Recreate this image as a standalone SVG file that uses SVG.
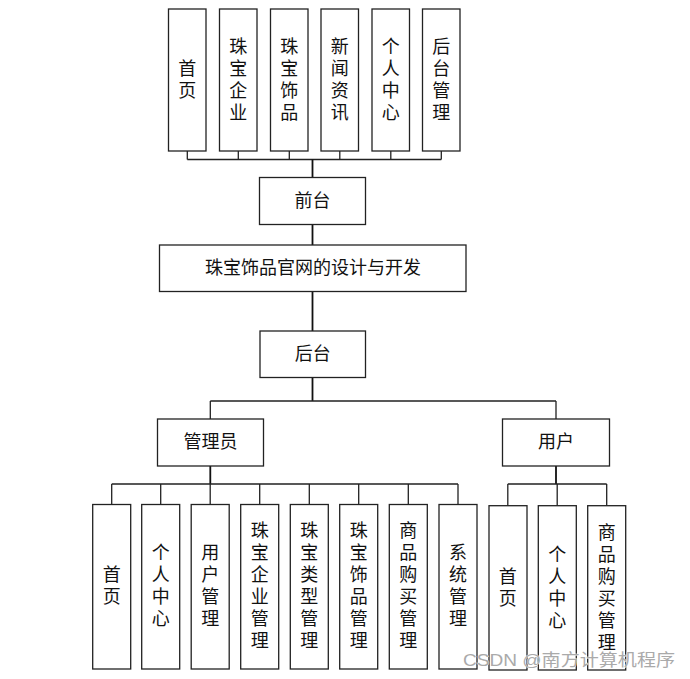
<svg xmlns="http://www.w3.org/2000/svg" width="690" height="679" viewBox="0 0 690 679">
<style>
.box{fill:#fff;stroke:#222;stroke-width:1.3}
.ln{fill:none;stroke:#222;stroke-width:1.3}
.tk{fill:none;stroke:#111;stroke-width:1.8}
text{font-family:"Noto Sans CJK SC","Noto Sans",sans-serif;font-size:18px;fill:#111;text-anchor:middle;dominant-baseline:central;transform:translateY(-2.5px)}
.wm{font-family:"Liberation Sans","Noto Sans CJK SC",sans-serif;font-size:17px;fill:#aaa;stroke:#fff;stroke-width:0.6;paint-order:stroke;text-anchor:start}
</style>
<rect width="690" height="679" fill="#fff"/>
<g id="connectors">
<path class="ln" d="M187.3 151V159.5M238.3 151V159.5M289.3 151V159.5M339.8 151V159.5M390.8 151V159.5M441.3 151V159.5M187.3 159.5H441.3"/>
<path class="tk" d="M312.5 159.5V177.5M312.5 224.5V245M312.5 291.5V331M312.5 377.5V401"/>
<path class="ln" d="M210.3 401H556M210.3 401V419M556 401V419"/>
<path class="tk" d="M210.3 466V484M556 466V484"/>
<path class="ln" d="M111.7 484H458M111.7 484V504.5M160.7 484V504.5M210.2 484V504.5M259.7 484V504.5M309.3 484V504.5M358.7 484V504.5M408.3 484V504.5M458 484V504.5"/>
<path class="ln" d="M507.8 484H606.7M507.8 484V505.7M557.2 484V505.7M606.7 484V505.7"/>
</g>
<g id="t1"><rect class="box" x="168.5" y="9" width="37.5" height="142"/><text x="187.3" y="80"><tspan x="187.3" dy="-11">首</tspan><tspan x="187.3" dy="22">页</tspan></text></g>
<g id="t2"><rect class="box" x="219.5" y="9" width="37.5" height="142"/><text x="238.3" y="80"><tspan x="238.3" dy="-33">珠</tspan><tspan x="238.3" dy="22">宝</tspan><tspan x="238.3" dy="22">企</tspan><tspan x="238.3" dy="22">业</tspan></text></g>
<g id="t3"><rect class="box" x="270.5" y="9" width="37.5" height="142"/><text x="289.3" y="80"><tspan x="289.3" dy="-33">珠</tspan><tspan x="289.3" dy="22">宝</tspan><tspan x="289.3" dy="22">饰</tspan><tspan x="289.3" dy="22">品</tspan></text></g>
<g id="t4"><rect class="box" x="321" y="9" width="37.5" height="142"/><text x="339.8" y="80"><tspan x="339.8" dy="-33">新</tspan><tspan x="339.8" dy="22">闻</tspan><tspan x="339.8" dy="22">资</tspan><tspan x="339.8" dy="22">讯</tspan></text></g>
<g id="t5"><rect class="box" x="372" y="9" width="37.5" height="142"/><text x="390.8" y="80"><tspan x="390.8" dy="-33">个</tspan><tspan x="390.8" dy="22">人</tspan><tspan x="390.8" dy="22">中</tspan><tspan x="390.8" dy="22">心</tspan></text></g>
<g id="t6"><rect class="box" x="422.5" y="9" width="37.5" height="142"/><text x="441.3" y="80"><tspan x="441.3" dy="-33">后</tspan><tspan x="441.3" dy="22">台</tspan><tspan x="441.3" dy="22">管</tspan><tspan x="441.3" dy="22">理</tspan></text></g>
<g id="qiantai"><rect class="box" x="259.5" y="177.5" width="106" height="47"/><text x="312.5" y="201">前台</text></g>
<g id="title"><rect class="box" x="159.5" y="245" width="306.5" height="46.5"/><text x="313" y="268">珠宝饰品官网的设计与开发</text></g>
<g id="houtai"><rect class="box" x="260" y="331" width="105.5" height="46.5"/><text x="312.7" y="354">后台</text></g>
<g id="admin"><rect class="box" x="157.5" y="419" width="106" height="47"/><text x="210.5" y="442.5">管理员</text></g>
<g id="user"><rect class="box" x="502.5" y="419" width="107" height="47"/><text x="556" y="442.5">用户</text></g>
<g id="a1"><rect class="box" x="92.7" y="504.5" width="38" height="164.5"/><text y="586.7"><tspan x="111.7" dy="-11">首</tspan><tspan x="111.7" dy="22">页</tspan></text></g>
<g id="a2"><rect class="box" x="141.7" y="504.5" width="38" height="164.5"/><text y="586.7"><tspan x="160.7" dy="-33">个</tspan><tspan x="160.7" dy="22">人</tspan><tspan x="160.7" dy="22">中</tspan><tspan x="160.7" dy="22">心</tspan></text></g>
<g id="a3"><rect class="box" x="191.2" y="504.5" width="38" height="164.5"/><text y="586.7"><tspan x="210.2" dy="-33">用</tspan><tspan x="210.2" dy="22">户</tspan><tspan x="210.2" dy="22">管</tspan><tspan x="210.2" dy="22">理</tspan></text></g>
<g id="a4"><rect class="box" x="240.7" y="504.5" width="38" height="164.5"/><text y="586.7"><tspan x="259.7" dy="-55">珠</tspan><tspan x="259.7" dy="22">宝</tspan><tspan x="259.7" dy="22">企</tspan><tspan x="259.7" dy="22">业</tspan><tspan x="259.7" dy="22">管</tspan><tspan x="259.7" dy="22">理</tspan></text></g>
<g id="a5"><rect class="box" x="290.3" y="504.5" width="38" height="164.5"/><text y="586.7"><tspan x="309.3" dy="-55">珠</tspan><tspan x="309.3" dy="22">宝</tspan><tspan x="309.3" dy="22">类</tspan><tspan x="309.3" dy="22">型</tspan><tspan x="309.3" dy="22">管</tspan><tspan x="309.3" dy="22">理</tspan></text></g>
<g id="a6"><rect class="box" x="339.7" y="504.5" width="38" height="164.5"/><text y="586.7"><tspan x="358.7" dy="-55">珠</tspan><tspan x="358.7" dy="22">宝</tspan><tspan x="358.7" dy="22">饰</tspan><tspan x="358.7" dy="22">品</tspan><tspan x="358.7" dy="22">管</tspan><tspan x="358.7" dy="22">理</tspan></text></g>
<g id="a7"><rect class="box" x="389.3" y="504.5" width="38" height="164.5"/><text y="586.7"><tspan x="408.3" dy="-55">商</tspan><tspan x="408.3" dy="22">品</tspan><tspan x="408.3" dy="22">购</tspan><tspan x="408.3" dy="22">买</tspan><tspan x="408.3" dy="22">管</tspan><tspan x="408.3" dy="22">理</tspan></text></g>
<g id="a8"><rect class="box" x="439" y="504.5" width="38" height="164.5"/><text y="586.7"><tspan x="458" dy="-33">系</tspan><tspan x="458" dy="22">统</tspan><tspan x="458" dy="22">管</tspan><tspan x="458" dy="22">理</tspan></text></g>
<g id="u1"><rect class="box" x="489" y="505.7" width="38" height="164.3"/><text y="588"><tspan x="507.8" dy="-11">首</tspan><tspan x="507.8" dy="22">页</tspan></text></g>
<g id="u2"><rect class="box" x="538.3" y="505.7" width="38" height="164.3"/><text y="588"><tspan x="557.2" dy="-33">个</tspan><tspan x="557.2" dy="22">人</tspan><tspan x="557.2" dy="22">中</tspan><tspan x="557.2" dy="22">心</tspan></text></g>
<g id="u3"><rect class="box" x="587.7" y="505.7" width="38" height="164.3"/><text y="588"><tspan x="606.7" dy="-55">商</tspan><tspan x="606.7" dy="22">品</tspan><tspan x="606.7" dy="22">购</tspan><tspan x="606.7" dy="22">买</tspan><tspan x="606.7" dy="22">管</tspan><tspan x="606.7" dy="22">理</tspan></text></g>
<text class="wm" x="463" y="662.5" textLength="212" lengthAdjust="spacingAndGlyphs">CSDN @南方计算机程序</text>
</svg>
